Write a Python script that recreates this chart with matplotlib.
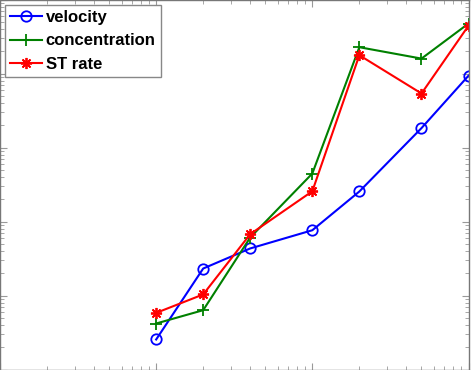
import numpy as np
import matplotlib
matplotlib.use('Agg')
import matplotlib.pyplot as plt

# x positions (log scale) and the three series
x = [1, 2, 4, 10, 20, 50, 100]
velocity = [0.256, 2.33, 4.35, 7.67, 25.6, 184, 940]
concentration = [0.421, 0.637, 6.11, 44.8, 2280, 1600, 4765]
st_rate = [0.586, 1.04, 6.78, 25.8, 1778, 540, 4456]

plt.rcParams['font.family'] = ['Liberation Sans', 'DejaVu Sans']

fig = plt.figure(figsize=(4.74, 3.70), dpi=100)
ax = fig.add_axes([0.0, 0.3/370, 468.5/474, 370/370])

ax.plot(x, velocity, color=(0, 0, 1), lw=1.5, marker='o', ms=7.5,
        mfc='none', mew=1.3, label='velocity')
ax.plot(x, concentration, color=(0, 0.5, 0), lw=1.5, marker='+', ms=9,
        mew=1.3, label='concentration')
ax.plot(x, st_rate, color=(1, 0, 0), lw=1.5, marker=(8, 2, 0), ms=8,
        mew=1.3, label='ST rate')

ax.set_xscale('log')
ax.set_yscale('log')
ax.set_xlim(0.1, 100)
ax.set_ylim(0.1, 1e4)

ax.tick_params(which='both', direction='in', top=True, right=True,
               labelbottom=False, labelleft=False, color='#999999')
ax.tick_params(which='major', length=5, width=0.8)
ax.tick_params(which='minor', length=3, width=0.6)
for s in ax.spines.values():
    s.set_color('#777777')
    s.set_linewidth(1.0)

leg = ax.legend(loc='upper left', bbox_to_anchor=(5/468.5, 1 - 5/370),
                borderaxespad=0, fancybox=False, framealpha=1,
                edgecolor='#888888', handlelength=1.9, handletextpad=0.25,
                labelspacing=0.52, borderpad=0.3,
                prop={'weight': 'bold', 'size': 12})
leg.get_frame().set_linewidth(1.0)

fig.savefig('out.png', dpi=100)
